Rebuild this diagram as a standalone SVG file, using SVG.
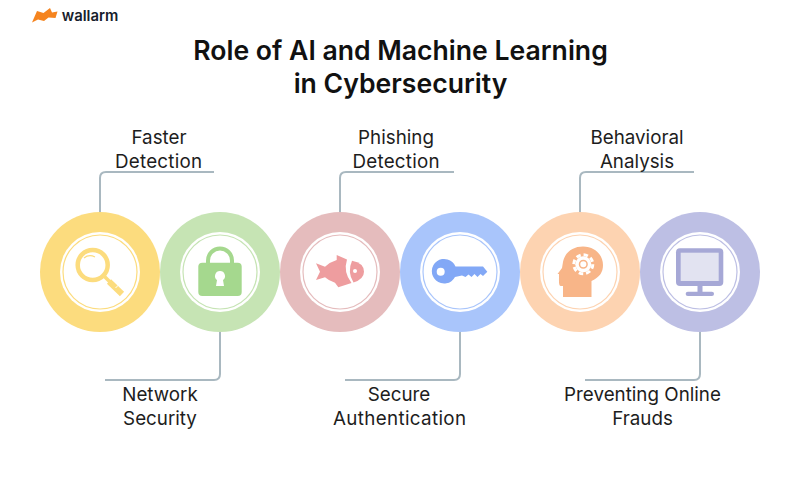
<svg xmlns="http://www.w3.org/2000/svg" width="800" height="480" viewBox="0 0 800 480">
<style>
text{font-family:"Inter","Liberation Sans",sans-serif;fill:#1d1d1d;text-anchor:middle}
.t{font-size:26.6px;font-weight:600;fill:#111}
.l{font-size:18.8px}
.c{fill:none;stroke:#a9b8c0;stroke-width:2}
.w{fill:#fff}
</style>
<rect width="800" height="480" fill="#fff"/>
<g id="logo">
<path d="M32 22.500L37 11L43.500 13L50 8L52 12.500L57.500 11.500L55.500 18L48.500 17.500L44 21L38 19.500Z" fill="#f5841f"/>
<text x="90" y="21" style="font-size:14.8px;font-weight:600;fill:#16202b">wallarm</text>
</g>
<g id="title">
<text class="t" x="400.500" y="60">Role of AI and Machine Learning</text>
<text class="t" x="400.500" y="93">in Cybersecurity</text>
</g>
<g id="connectors">
<path class="c" d="M100 212V178Q100 172 106 172H214"/>
<path class="c" d="M220 332V374Q220 380 214 380H105"/>
<path class="c" d="M340 212V178Q340 172 346 172H454"/>
<path class="c" d="M460 332V374Q460 380 454 380H345"/>
<path class="c" d="M580 212V178Q580 172 586 172H694"/>
<path class="c" d="M700 332V374Q700 380 694 380H585"/>
</g>
<g id="node-faster-detection">
<circle cx="100" cy="272" r="60" fill="#fcdc7e"/><circle class="w" cx="100" cy="272" r="40"/><circle cx="100" cy="272" r="37" fill="#fff" stroke="#fcdc7e" stroke-width="1.2"/>
<circle cx="92.700" cy="265" r="15" fill="#fff" stroke="#fcdc7e" stroke-width="4.500"/>
<path d="M84 258Q89 254 95 257" fill="none" stroke="#fcdc7e" stroke-width="1.2"/>
<path d="M104 276L112 284" stroke="#fcdc7e" stroke-width="3.500"/>
<path d="M109 281.500L122 294" stroke="#fcdc7e" stroke-width="6"/>
<path d="M115.500 288L119 284.500" stroke="#fff" stroke-width="1"/>
<text class="l" x="159" y="143.500">Faster</text><text class="l" x="158.500" y="167.500" textLength="87">Detection</text>
</g>
<g id="node-network-security">
<circle cx="220" cy="272" r="60" fill="#c6e4b4"/><circle class="w" cx="220" cy="272" r="40"/><circle cx="220" cy="272" r="37" fill="#fff" stroke="#c6e4b4" stroke-width="1.2"/>
<path d="M208 264V260.500A12 12 0 0 1 232 260.500V264" fill="none" stroke="#a5d88e" stroke-width="4"/>
<rect x="198.300" y="262.700" width="43.400" height="33.300" rx="4" fill="#a5d88e"/>
<path d="M220 271a5 5 0 0 1 3 9l1 6h-8l1-6a5 5 0 0 1 3-9z" fill="#fff"/>
<text class="l" x="160" y="400.500">Network</text><text class="l" x="160" y="425">Security</text>
</g>
<g id="node-phishing-detection">
<circle cx="340" cy="272" r="60" fill="#e5bcbd"/><circle class="w" cx="340" cy="272" r="40"/><circle cx="340" cy="272" r="37" fill="#fff" stroke="#e5bcbd" stroke-width="1.2"/>
<path d="M316 263.300L325 266.700Q330 262 336.700 260L336.700 255L347 259.500Q343 272 351.500 283L338.300 287.300L335 282.700Q329 281 325 277.300L316 280L320 271.700Z" fill="#ee9d9f"/>
<path d="M352 260.700Q364 263 364 271.700Q364 279 353.500 282.500Q347 272 352 260.700Z" fill="#ee9d9f"/>
<circle cx="355" cy="271" r="2" fill="#fff"/>
<text class="l" x="396" y="143.500">Phishing</text><text class="l" x="396" y="167.500" textLength="87">Detection</text>
</g>
<g id="node-secure-authentication">
<circle cx="460" cy="272" r="60" fill="#a9c5fb"/><circle class="w" cx="460" cy="272" r="40"/><circle cx="460" cy="272" r="37" fill="#fff" stroke="#a9c5fb" stroke-width="1.2"/>
<path d="M455.500 266.500H483L487.300 271.700L483 276L480.500 274L477.500 277L474.500 274L471.500 277L468.500 274.500L465.500 277L462 275.500L455 277A12.300 12.300 0 1 1 455.500 266.500Z" fill="#82a8f6"/>
<circle cx="440.700" cy="271.700" r="4" fill="#fff"/>
<text class="l" x="399" y="400.500">Secure</text><text class="l" x="399.500" y="425" textLength="133">Authentication</text>
</g>
<g id="node-behavioral-analysis">
<circle cx="580" cy="272" r="60" fill="#fdd3b1"/><circle class="w" cx="580" cy="272" r="40"/><circle cx="580" cy="272" r="37" fill="#fff" stroke="#fdd3b1" stroke-width="1.2"/>
<path d="M563 262C565 252 573 246.500 583 246.500C595 246.500 603 255 603 265C603 272 600 277 591.500 281V297H563V286H561C558.500 286 559 282 559 274H557.500L562 268Z" fill="#f8b588"/>
<circle cx="583.300" cy="264.300" r="8" fill="#fff"/>
<circle cx="583.300" cy="264.300" r="9.500" fill="none" stroke="#fff" stroke-width="3" stroke-dasharray="4.500 2.960"/>
<circle cx="583.300" cy="264.300" r="3.800" fill="#fff" stroke="#f8b588" stroke-width="1.500"/>
<text class="l" x="637" y="143.500">Behavioral</text><text class="l" x="637" y="167.500">Analysis</text>
</g>
<g id="node-preventing-online-frauds">
<circle cx="700" cy="272" r="60" fill="#bdbfe4"/><circle class="w" cx="700" cy="272" r="40"/><circle cx="700" cy="272" r="37" fill="#fff" stroke="#bdbfe4" stroke-width="1.2"/>
<rect x="676" y="248.300" width="47.300" height="37.700" rx="4" fill="#a6a8d6"/>
<rect x="680.700" y="252.700" width="38" height="28.300" fill="#e2e3f1"/>
<rect x="697.500" y="286" width="5" height="7" fill="#a6a8d6"/>
<rect x="685.700" y="291.700" width="28.300" height="4.300" rx="2.100" fill="#a6a8d6"/>
<text class="l" x="642.500" y="400.500">Preventing Online</text><text class="l" x="642.500" y="425">Frauds</text>
</g>
</svg>
